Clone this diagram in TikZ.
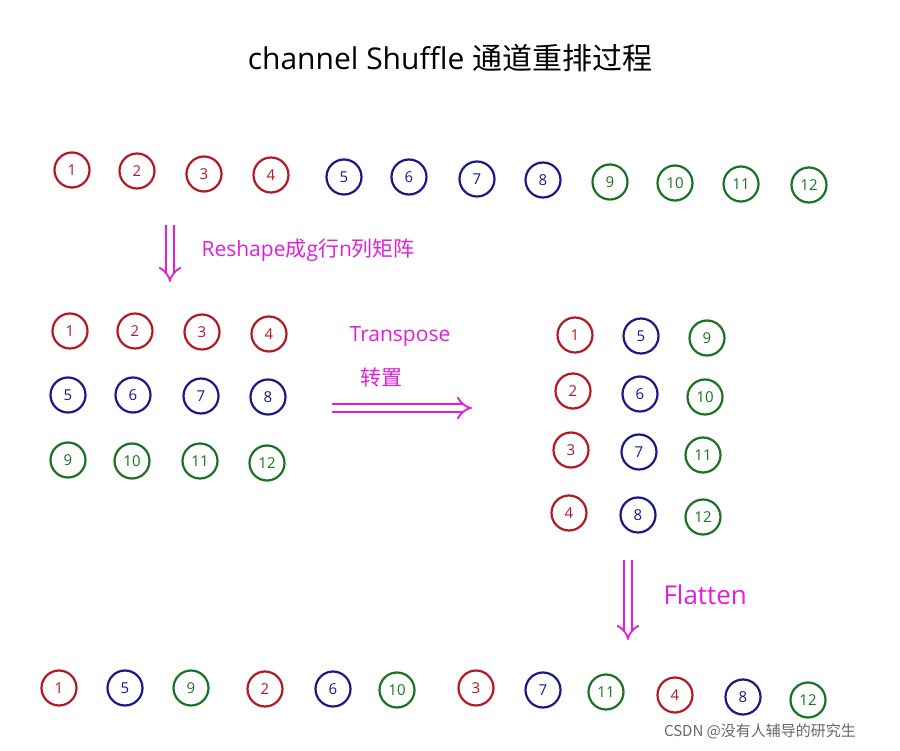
\documentclass[tikz,border=0pt]{standalone}
\usepackage{fontspec}
\setmainfont{Open Sans}
\newfontfamily\cjk{Noto Sans CJK SC}
\usetikzlibrary{arrows.meta}
\definecolor{cr}{RGB}{180,25,35}
\definecolor{cb}{RGB}{25,25,135}
\definecolor{cg}{RGB}{25,115,35}
\definecolor{mg}{RGB}{225,30,220}
\tikzset{
 ch/.style={circle,draw=#1,text=#1,line width=2.2pt,minimum size=35pt,inner sep=0pt,font=\fontsize{15}{15}\selectfont},
 bigarrow/.style={draw=mg,line width=1.8pt,double,double distance=6pt,-{Implies[length=10pt]}},
 lab/.style={text=mg,font=\fontsize{21}{21}\selectfont}
}
\begin{document}
\begin{tikzpicture}[x=1pt,y=-1pt]
\useasboundingbox (0,0) rectangle (900,751);
\node[font=\fontsize{30}{30}\selectfont] (title) at (450,58) {channel Shuffle {\cjk 通道重排过程}};
\foreach \n/\x/\y/\c in {1/72/170/cr,2/137/171/cr,3/204/174/cr,4/271/175/cr,5/344/177/cb,6/409/177/cb,7/477/179/cb,8/543/180/cb,9/610/182/cg,10/675/183/cg,11/741/184/cg,12/809/185/cg}
 \node[ch=\c] (a\n) at (\x,\y) {\n};
\foreach \n/\x/\y/\c in {1/70/331/cr,2/135/331/cr,3/202/332/cr,4/269/334/cr,5/68/395/cb,6/133/395/cb,7/201/396/cb,8/268/397/cb,9/68/460/cg,10/132/461/cg,11/200/461/cg,12/267/463/cg}
 \node[ch=\c] (m\n) at (\x,\y) {\n};
\foreach \n/\x/\y/\c in {1/575/335/cr,5/641/336/cb,9/707/338/cg,2/573/391/cr,6/640/394/cb,10/705/397/cg,3/571/450/cr,7/639/452/cb,11/703/455/cg,4/569/513/cr,8/638/515/cb,12/703/517/cg}
 \node[ch=\c] (t\n) at (\x,\y) {\n};
\foreach \n/\x/\y/\c in {1/59/688/cr,5/125/688/cb,9/191/688/cg,2/265/689/cr,6/333/689/cb,10/397/690/cg,3/476/688/cr,7/543/690/cb,11/606/692/cg,4/675/695/cr,8/743/697/cb,12/808/700/cg}
 \node[ch=\c] (b\n) at (\x,\y) {\n};
\coordinate (r1) at (170,225); \coordinate (r2) at (170,282);
\draw[bigarrow] (r1) -- (r2);
\node[lab,anchor=west] (rl) at (198,250) {Reshape{\cjk 成}g{\cjk 行}n{\cjk 列矩阵}};
\coordinate (s1) at (332,408); \coordinate (s2) at (472,408);
\draw[bigarrow] (s1) -- (s2);
\node[lab] (tl) at (400,337) {Transpose};
\node[lab] (tz) at (381,378) {\cjk 转置};
\coordinate (f1) at (628,560); \coordinate (f2) at (628,640);
\draw[bigarrow] (f1) -- (f2);
\node[lab,anchor=west,font=\fontsize{26}{26}\selectfont] (fl) at (660,595) {Flatten};
\node[text=black!60,font=\fontsize{15}{15}\selectfont\cjk] (wm) at (760,731) {CSDN @没有人辅导的研究生};
\end{tikzpicture}
\end{document}
